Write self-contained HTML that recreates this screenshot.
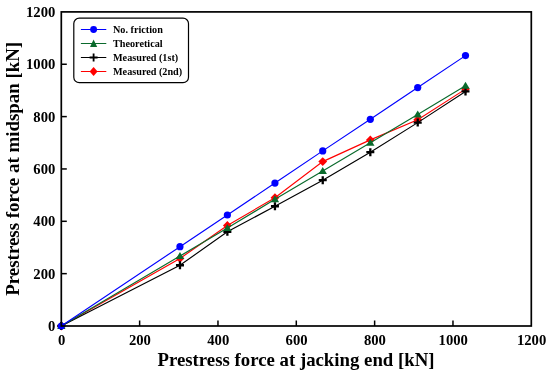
<!DOCTYPE html>
<html><head><meta charset="utf-8"><title>Prestress force chart</title>
<style>
html,body{margin:0;padding:0;background:#fff;}
body{width:550px;height:374px;overflow:hidden;}
svg{display:block;}
text{font-family:"Liberation Serif","Times New Roman",serif;font-weight:bold;fill:#000;}
.tk{font-size:14px;}
.lb{font-size:18px;}
.lg{font-size:10px;}
</style></head><body>
<svg width="550" height="374" viewBox="0 0 550 374">
<rect width="550" height="374" fill="#fff"/>
<polyline points="61.30,326.00 179.97,258.47 227.37,225.49 274.95,197.74 322.74,161.62 370.32,139.90 417.72,119.74 465.50,89.12" fill="none" stroke="#ff0000" stroke-width="1.15"/>
<polygon points="61.30,321.60 65.70,326.00 61.30,330.40 56.90,326.00" fill="#ff0000"/>
<polygon points="179.97,254.07 184.37,258.47 179.97,262.87 175.57,258.47" fill="#ff0000"/>
<polygon points="227.37,221.09 231.77,225.49 227.37,229.89 222.97,225.49" fill="#ff0000"/>
<polygon points="274.95,193.34 279.35,197.74 274.95,202.14 270.55,197.74" fill="#ff0000"/>
<polygon points="322.74,157.22 327.14,161.62 322.74,166.02 318.34,161.62" fill="#ff0000"/>
<polygon points="370.32,135.50 374.72,139.90 370.32,144.30 365.93,139.90" fill="#ff0000"/>
<polygon points="417.72,115.34 422.12,119.74 417.72,124.14 413.32,119.74" fill="#ff0000"/>
<polygon points="465.50,84.72 469.90,89.12 465.50,93.52 461.10,89.12" fill="#ff0000"/>
<polyline points="61.30,326.00 179.97,265.27 227.37,231.77 274.95,206.25 322.74,180.21 370.32,152.20 417.72,122.62 465.50,91.47" fill="none" stroke="#000000" stroke-width="1.15"/>
<path d="M57.30,326.00H65.30M61.30,322.00V330.00" stroke="#000" stroke-width="2.3" fill="none"/>
<path d="M175.97,265.27H183.97M179.97,261.27V269.27" stroke="#000" stroke-width="2.3" fill="none"/>
<path d="M223.37,231.77H231.37M227.37,227.77V235.77" stroke="#000" stroke-width="2.3" fill="none"/>
<path d="M270.95,206.25H278.95M274.95,202.25V210.25" stroke="#000" stroke-width="2.3" fill="none"/>
<path d="M318.74,180.21H326.74M322.74,176.21V184.21" stroke="#000" stroke-width="2.3" fill="none"/>
<path d="M366.32,152.20H374.32M370.32,148.20V156.20" stroke="#000" stroke-width="2.3" fill="none"/>
<path d="M413.72,122.62H421.72M417.72,118.62V126.62" stroke="#000" stroke-width="2.3" fill="none"/>
<path d="M461.50,91.47H469.50M465.50,87.47V95.47" stroke="#000" stroke-width="2.3" fill="none"/>
<polyline points="61.30,326.00 179.97,256.11 227.37,228.11 274.95,199.31 322.74,171.04 370.32,142.77 417.72,114.51 465.50,85.71" fill="none" stroke="#0a6a2c" stroke-width="1.15"/>
<polygon points="61.30,322.00 65.50,329.00 57.10,329.00" fill="#0a6a2c"/>
<polygon points="179.97,252.11 184.17,259.11 175.77,259.11" fill="#0a6a2c"/>
<polygon points="227.37,224.11 231.57,231.11 223.17,231.11" fill="#0a6a2c"/>
<polygon points="274.95,195.31 279.15,202.31 270.75,202.31" fill="#0a6a2c"/>
<polygon points="322.74,167.04 326.94,174.04 318.54,174.04" fill="#0a6a2c"/>
<polygon points="370.32,138.77 374.52,145.77 366.12,145.77" fill="#0a6a2c"/>
<polygon points="417.72,110.51 421.92,117.51 413.52,117.51" fill="#0a6a2c"/>
<polygon points="465.50,81.71 469.70,88.71 461.30,88.71" fill="#0a6a2c"/>
<polyline points="61.30,326.00 179.97,246.69 227.37,215.02 274.95,183.08 322.74,150.89 370.32,119.35 417.72,87.55 465.50,55.61" fill="none" stroke="#0000ff" stroke-width="1.15"/>
<circle cx="61.30" cy="326.00" r="3.6" fill="#0000ff"/>
<circle cx="179.97" cy="246.69" r="3.6" fill="#0000ff"/>
<circle cx="227.37" cy="215.02" r="3.6" fill="#0000ff"/>
<circle cx="274.95" cy="183.08" r="3.6" fill="#0000ff"/>
<circle cx="322.74" cy="150.89" r="3.6" fill="#0000ff"/>
<circle cx="370.32" cy="119.35" r="3.6" fill="#0000ff"/>
<circle cx="417.72" cy="87.55" r="3.6" fill="#0000ff"/>
<circle cx="465.50" cy="55.61" r="3.6" fill="#0000ff"/>
<rect x="61.3" y="11.9" width="470.00" height="314.10" fill="none" stroke="#000" stroke-width="1.7"/>
<text class="tk" transform="translate(61.60,344.5) scale(1.05,1)" text-anchor="middle">0</text>
<text class="tk" transform="translate(55.4,330.90) scale(1.05,1)" text-anchor="end">0</text>
<line x1="139.63" y1="326.0" x2="139.63" y2="320.5" stroke="#000" stroke-width="1.5"/>
<line x1="61.3" y1="273.65" x2="66.8" y2="273.65" stroke="#000" stroke-width="1.5"/>
<text class="tk" transform="translate(139.93,344.5) scale(1.05,1)" text-anchor="middle">200</text>
<text class="tk" transform="translate(55.4,278.55) scale(1.05,1)" text-anchor="end">200</text>
<line x1="217.97" y1="326.0" x2="217.97" y2="320.5" stroke="#000" stroke-width="1.5"/>
<line x1="61.3" y1="221.30" x2="66.8" y2="221.30" stroke="#000" stroke-width="1.5"/>
<text class="tk" transform="translate(218.27,344.5) scale(1.05,1)" text-anchor="middle">400</text>
<text class="tk" transform="translate(55.4,226.20) scale(1.05,1)" text-anchor="end">400</text>
<line x1="296.30" y1="326.0" x2="296.30" y2="320.5" stroke="#000" stroke-width="1.5"/>
<line x1="61.3" y1="168.95" x2="66.8" y2="168.95" stroke="#000" stroke-width="1.5"/>
<text class="tk" transform="translate(296.60,344.5) scale(1.05,1)" text-anchor="middle">600</text>
<text class="tk" transform="translate(55.4,173.85) scale(1.05,1)" text-anchor="end">600</text>
<line x1="374.63" y1="326.0" x2="374.63" y2="320.5" stroke="#000" stroke-width="1.5"/>
<line x1="61.3" y1="116.60" x2="66.8" y2="116.60" stroke="#000" stroke-width="1.5"/>
<text class="tk" transform="translate(374.93,344.5) scale(1.05,1)" text-anchor="middle">800</text>
<text class="tk" transform="translate(55.4,121.50) scale(1.05,1)" text-anchor="end">800</text>
<line x1="452.97" y1="326.0" x2="452.97" y2="320.5" stroke="#000" stroke-width="1.5"/>
<line x1="61.3" y1="64.25" x2="66.8" y2="64.25" stroke="#000" stroke-width="1.5"/>
<text class="tk" transform="translate(453.27,344.5) scale(1.05,1)" text-anchor="middle">1000</text>
<text class="tk" transform="translate(55.4,69.15) scale(1.05,1)" text-anchor="end">1000</text>
<text class="tk" transform="translate(531.60,344.5) scale(1.05,1)" text-anchor="middle">1200</text>
<text class="tk" transform="translate(55.4,16.80) scale(1.05,1)" text-anchor="end">1200</text>
<text class="lb" transform="translate(296,365.9) scale(1.045,1)" text-anchor="middle">Prestress force at jacking end [kN]</text>
<text class="lb" transform="translate(18.5,168.8) rotate(-90) scale(1.05,1)" text-anchor="middle">Prestress force at midspan [kN]</text>
<rect x="73.8" y="18.1" width="114.7" height="64.6" rx="5.5" ry="5.5" fill="#fff" stroke="#000" stroke-width="1.2"/>
<line x1="80.9" y1="29.5" x2="106.3" y2="29.5" stroke="#0000ff" stroke-width="1"/>
<circle cx="93.60" cy="29.50" r="3.45" fill="#0000ff"/>
<text class="lg" transform="translate(113.0,32.80) scale(1.02,1)">No. friction</text>
<line x1="80.9" y1="43.5" x2="106.3" y2="43.5" stroke="#0a6a2c" stroke-width="1"/>
<polygon points="93.60,39.50 97.20,47.10 90.00,47.10" fill="#0a6a2c"/>
<text class="lg" transform="translate(113.0,46.80) scale(1.02,1)">Theoretical</text>
<line x1="80.9" y1="57.5" x2="106.3" y2="57.5" stroke="#000000" stroke-width="1"/>
<path d="M89.60,57.50H97.60M93.60,53.50V61.50" stroke="#000" stroke-width="1.8" fill="none"/>
<text class="lg" transform="translate(113.0,60.80) scale(1.02,1)">Measured (1st)</text>
<line x1="80.9" y1="71.5" x2="106.3" y2="71.5" stroke="#ff0000" stroke-width="1"/>
<polygon points="93.60,67.10 97.60,71.50 93.60,75.90 89.60,71.50" fill="#ff0000"/>
<text class="lg" transform="translate(113.0,74.80) scale(1.02,1)">Measured (2nd)</text>
</svg></body></html>
